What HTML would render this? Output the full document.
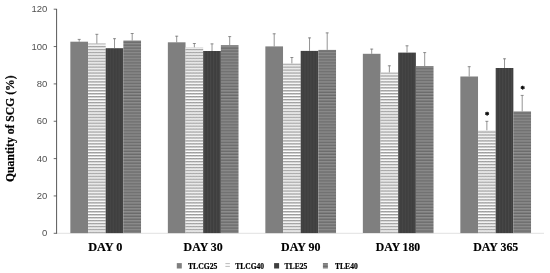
<!DOCTYPE html>
<html lang="en"><head><meta charset="utf-8"><title>Quantity of SCG (%)</title>
<style>html,body{margin:0;padding:0;background:#fff}svg{display:block}
.t{font-family:"Liberation Sans",sans-serif;font-size:8.8px;fill:#505050}
.b{font-family:"Liberation Serif",serif;font-weight:bold;fill:#000}
</style></head><body>
<svg width="550" height="273" viewBox="0 0 550 273">
<defs>
<pattern id="p2" patternUnits="userSpaceOnUse" x="0.3" y="110.75" width="2.95" height="2.95"><rect width="2.95" height="2.95" fill="#fff"/><path d="M-0.37 0.7 Q0 0.1 0.37 0.7 T1.11 0.7 T1.84 0.7 T2.58 0.7 T3.32 0.7" stroke="#989898" stroke-width="1.1" fill="none"/></pattern>
<pattern id="p4" patternUnits="userSpaceOnUse" x="0" y="110.75" width="10" height="2.95"><rect width="10" height="2.95" fill="#6b6b6b"/><rect width="10" height="1.5" fill="#8d8d8d"/></pattern>
<pattern id="p3" patternUnits="userSpaceOnUse" x="0.6" y="0" width="2.95" height="10"><rect width="2.95" height="10" fill="#3e3e3e"/><rect width="1.2" height="10" fill="#474747"/></pattern>
</defs>
<rect width="550" height="273" fill="#fff"/>
<line x1="56.4" y1="233.3" x2="544" y2="233.3" stroke="#d9d9d9" stroke-width="0.8"/>
<rect x="70.35" y="41.7" width="17.67" height="191.4" fill="#7f7f7f"/>
<path d="M79.19 41.7 V39.1 M77.69 39.40 H80.69" stroke="#727272" stroke-width="0.75" fill="none"/>
<rect x="88.02" y="43.5" width="17.67" height="189.6" fill="url(#p2)"/>
<path d="M96.85 43.5 V34.0 M95.35 34.30 H98.35" stroke="#727272" stroke-width="0.75" fill="none"/>
<rect x="105.69" y="48.2" width="17.67" height="184.9" fill="url(#p3)"/>
<path d="M114.53 48.2 V38.4 M113.03 38.70 H116.03" stroke="#727272" stroke-width="0.75" fill="none"/>
<rect x="123.36" y="40.5" width="17.67" height="192.6" fill="url(#p4)"/>
<path d="M132.19 40.5 V33.2 M130.69 33.50 H133.69" stroke="#727272" stroke-width="0.75" fill="none"/>
<rect x="167.85" y="42.3" width="17.67" height="190.8" fill="#7f7f7f"/>
<path d="M176.69 42.3 V35.9 M175.19 36.20 H178.19" stroke="#727272" stroke-width="0.75" fill="none"/>
<rect x="185.52" y="47.3" width="17.67" height="185.8" fill="url(#p2)"/>
<path d="M194.35 47.3 V43.2 M192.85 43.50 H195.85" stroke="#727272" stroke-width="0.75" fill="none"/>
<rect x="203.19" y="51.0" width="17.67" height="182.1" fill="url(#p3)"/>
<path d="M212.03 51.0 V43.6 M210.53 43.90 H213.53" stroke="#727272" stroke-width="0.75" fill="none"/>
<rect x="220.86" y="45.2" width="17.67" height="187.9" fill="url(#p4)"/>
<path d="M229.70 45.2 V36.3 M228.20 36.60 H231.20" stroke="#727272" stroke-width="0.75" fill="none"/>
<rect x="265.35" y="46.4" width="17.67" height="186.7" fill="#7f7f7f"/>
<path d="M274.19 46.4 V33.5 M272.69 33.80 H275.69" stroke="#727272" stroke-width="0.75" fill="none"/>
<rect x="283.02" y="63.4" width="17.67" height="169.7" fill="url(#p2)"/>
<path d="M291.86 63.4 V57.2 M290.36 57.50 H293.36" stroke="#727272" stroke-width="0.75" fill="none"/>
<rect x="300.69" y="50.9" width="17.67" height="182.2" fill="url(#p3)"/>
<path d="M309.53 50.9 V37.6 M308.03 37.90 H311.03" stroke="#727272" stroke-width="0.75" fill="none"/>
<rect x="318.36" y="49.9" width="17.67" height="183.2" fill="url(#p4)"/>
<path d="M327.19 49.9 V32.6 M325.69 32.90 H328.69" stroke="#727272" stroke-width="0.75" fill="none"/>
<rect x="362.85" y="53.8" width="17.67" height="179.2" fill="#7f7f7f"/>
<path d="M371.69 53.8 V48.8 M370.19 49.10 H373.19" stroke="#727272" stroke-width="0.75" fill="none"/>
<rect x="380.52" y="72.4" width="17.67" height="160.7" fill="url(#p2)"/>
<path d="M389.36 72.4 V65.5 M387.86 65.80 H390.86" stroke="#727272" stroke-width="0.75" fill="none"/>
<rect x="398.19" y="52.6" width="17.67" height="180.5" fill="url(#p3)"/>
<path d="M407.03 52.6 V45.5 M405.53 45.80 H408.53" stroke="#727272" stroke-width="0.75" fill="none"/>
<rect x="415.86" y="66.1" width="17.67" height="167.0" fill="url(#p4)"/>
<path d="M424.69 66.1 V52.3 M423.19 52.60 H426.19" stroke="#727272" stroke-width="0.75" fill="none"/>
<rect x="460.35" y="76.5" width="17.67" height="156.6" fill="#7f7f7f"/>
<path d="M469.19 76.5 V66.4 M467.69 66.70 H470.69" stroke="#727272" stroke-width="0.75" fill="none"/>
<rect x="478.02" y="130.3" width="17.67" height="102.8" fill="url(#p2)"/>
<path d="M486.86 130.3 V121.0 M485.36 121.30 H488.36" stroke="#727272" stroke-width="0.75" fill="none"/>
<rect x="495.69" y="68.0" width="17.67" height="165.1" fill="url(#p3)"/>
<path d="M504.53 68.0 V58.5 M503.03 58.80 H506.03" stroke="#727272" stroke-width="0.75" fill="none"/>
<rect x="513.36" y="111.4" width="17.67" height="121.7" fill="url(#p4)"/>
<path d="M522.20 111.4 V95.1 M520.70 95.40 H523.70" stroke="#727272" stroke-width="0.75" fill="none"/>
<line x1="56.6" y1="8.9" x2="56.6" y2="233.7" stroke="#454545" stroke-width="0.9"/>
<line x1="53.7" y1="233.30" x2="56.6" y2="233.30" stroke="#454545" stroke-width="0.8"/>
<text class="t" x="42.00" y="236.30" textLength="5.3" lengthAdjust="spacingAndGlyphs">0</text>
<line x1="53.7" y1="195.95" x2="56.6" y2="195.95" stroke="#454545" stroke-width="0.8"/>
<text class="t" x="36.70" y="198.95" textLength="10.6" lengthAdjust="spacingAndGlyphs">20</text>
<line x1="53.7" y1="158.60" x2="56.6" y2="158.60" stroke="#454545" stroke-width="0.8"/>
<text class="t" x="36.70" y="161.60" textLength="10.6" lengthAdjust="spacingAndGlyphs">40</text>
<line x1="53.7" y1="121.25" x2="56.6" y2="121.25" stroke="#454545" stroke-width="0.8"/>
<text class="t" x="36.70" y="124.25" textLength="10.6" lengthAdjust="spacingAndGlyphs">60</text>
<line x1="53.7" y1="83.90" x2="56.6" y2="83.90" stroke="#454545" stroke-width="0.8"/>
<text class="t" x="36.70" y="86.90" textLength="10.6" lengthAdjust="spacingAndGlyphs">80</text>
<line x1="53.7" y1="46.55" x2="56.6" y2="46.55" stroke="#454545" stroke-width="0.8"/>
<text class="t" x="31.40" y="49.55" textLength="15.9" lengthAdjust="spacingAndGlyphs">100</text>
<line x1="53.7" y1="9.20" x2="56.6" y2="9.20" stroke="#454545" stroke-width="0.8"/>
<text class="t" x="31.40" y="12.20" textLength="15.9" lengthAdjust="spacingAndGlyphs">120</text>
<text class="b" font-size="11.7" x="88.2" y="250.8" stroke="#000" stroke-width="0.15" textLength="34.2" lengthAdjust="spacingAndGlyphs">DAY 0</text>
<text class="b" font-size="11.7" x="183.6" y="250.8" stroke="#000" stroke-width="0.15" textLength="39.0" lengthAdjust="spacingAndGlyphs">DAY 30</text>
<text class="b" font-size="11.7" x="281.1" y="250.8" stroke="#000" stroke-width="0.15" textLength="39.3" lengthAdjust="spacingAndGlyphs">DAY 90</text>
<text class="b" font-size="11.7" x="375.8" y="250.8" stroke="#000" stroke-width="0.15" textLength="44.4" lengthAdjust="spacingAndGlyphs">DAY 180</text>
<text class="b" font-size="11.7" x="473.3" y="250.8" stroke="#000" stroke-width="0.15" textLength="45.0" lengthAdjust="spacingAndGlyphs">DAY 365</text>
<text class="b" font-size="11.8" stroke="#000" stroke-width="0.2" transform="translate(13.5 182.0) rotate(-90)" textLength="106.6" lengthAdjust="spacingAndGlyphs">Quantity of SCG (%)</text>
<text class="b" font-size="8.6" text-anchor="middle" x="487.1" y="117.9" stroke="#000" stroke-width="0.45" stroke-linejoin="round">*</text>
<text class="b" font-size="8.6" text-anchor="middle" x="522.6" y="91.9" stroke="#000" stroke-width="0.45" stroke-linejoin="round">*</text>
<rect x="176.8" y="263.1" width="5" height="5.4" fill="#7f7f7f"/>
<text class="b" font-size="7.6" x="188.0" y="268.55" stroke="#000" stroke-width="0.2" textLength="29.4" lengthAdjust="spacingAndGlyphs">TLCG25</text>
<path d="M225.4 263.6 h4.5 M225.4 266.4 h4.5" stroke="#b4b4b4" stroke-width="0.9" fill="none"/>
<text class="b" font-size="7.6" x="235.3" y="268.55" stroke="#000" stroke-width="0.2" textLength="28.8" lengthAdjust="spacingAndGlyphs">TLCG40</text>
<rect x="274.1" y="263.1" width="5" height="5.4" fill="#3f3f3f"/>
<text class="b" font-size="7.6" x="284.5" y="268.55" stroke="#000" stroke-width="0.2" textLength="22.8" lengthAdjust="spacingAndGlyphs">TLE25</text>
<rect x="322.9" y="263.1" width="5" height="5.4" fill="url(#p4)"/>
<text class="b" font-size="7.6" x="335.0" y="268.55" stroke="#000" stroke-width="0.2" textLength="22.7" lengthAdjust="spacingAndGlyphs">TLE40</text>
</svg>
</body></html>
